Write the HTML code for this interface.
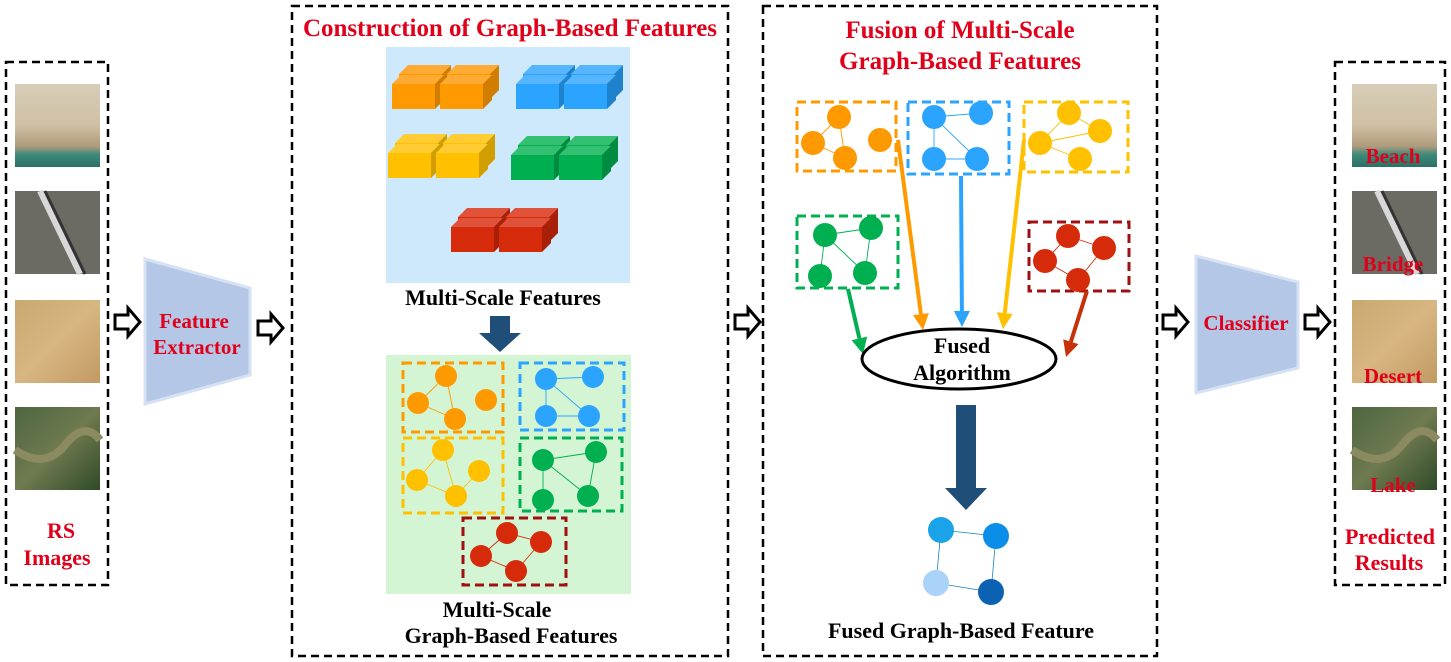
<!DOCTYPE html>
<html><head><meta charset="utf-8"><style>
html,body{margin:0;padding:0;background:#fff;}
svg{display:block;}
text{font-family:"Liberation Serif",serif;font-weight:bold;}
</style></head><body>
<svg id="s" width="1451" height="662" viewBox="0 0 1451 662" xmlns="http://www.w3.org/2000/svg">
<defs>
<linearGradient id="beach" x1="0" y1="0" x2="0" y2="1"><stop offset="0" stop-color="#d8cdb8"/><stop offset="0.5" stop-color="#cfc0a4"/><stop offset="0.75" stop-color="#b09a7c"/><stop offset="0.85" stop-color="#3d8a7a"/><stop offset="1" stop-color="#2c7066"/></linearGradient>
<linearGradient id="desert" x1="0" y1="0" x2="1" y2="1"><stop offset="0" stop-color="#c9a870"/><stop offset="0.5" stop-color="#d8b682"/><stop offset="1" stop-color="#c29a62"/></linearGradient>
<linearGradient id="lake" x1="0" y1="0" x2="1" y2="1"><stop offset="0" stop-color="#4d6640"/><stop offset="0.5" stop-color="#6f7a50"/><stop offset="1" stop-color="#2f4a28"/></linearGradient>
</defs>
<g fill="none" stroke="#000" stroke-width="2.5" stroke-dasharray="8,5">
<rect x="6" y="62" width="102" height="523"/>
<rect x="292" y="6" width="436" height="650"/>
<rect x="763" y="6" width="394" height="650"/>
<rect x="1335" y="62" width="110" height="523"/>
</g>
<g id="imgs"></g>
<text x="61" y="538" font-size="22" fill="#e0001a" text-anchor="middle">RS</text>
<text x="57" y="565" font-size="22" fill="#e0001a" text-anchor="middle">Images</text>
<polygon points="145,259 250,288 250,375 145,404" fill="#b4c7e7" stroke="#d6e2f3" stroke-width="3"/>
<text x="194" y="328" font-size="21" fill="#e0001a" text-anchor="middle">Feature</text>
<text x="197" y="354" font-size="21" fill="#e0001a" text-anchor="middle">Extractor</text>
<polygon points="1196,256 1298,282 1298,368 1196,393" fill="#b4c7e7" stroke="#d6e2f3" stroke-width="3"/>
<text x="1246" y="330" font-size="21" fill="#e0001a" text-anchor="middle">Classifier</text>
<g id="harrows" fill="#fff" stroke="#000" stroke-width="3"></g>
<text x="510" y="36" font-size="25" fill="#e0001a" text-anchor="middle" textLength="414">Construction of Graph-Based Features</text>
<rect x="386" y="47" width="244" height="236" fill="#cde9fb"/>
<g id="cubes"></g>
<text x="503" y="305" font-size="22" fill="#000" text-anchor="middle">Multi-Scale Features</text>
<polygon points="490,316 510,316 510,333 521,333 500,352 479,333 490,333" fill="#1f4e79"/>
<rect x="386" y="355" width="245" height="239" fill="#d4f5d4"/>
<g id="graphs"></g>
<text x="497" y="617" font-size="22" fill="#000" text-anchor="middle">Multi-Scale</text>
<text x="511" y="643" font-size="22" fill="#000" text-anchor="middle">Graph-Based Features</text>
<text x="960" y="38" font-size="25" fill="#e0001a" text-anchor="middle">Fusion of Multi-Scale</text>
<text x="960" y="69" font-size="25" fill="#e0001a" text-anchor="middle">Graph-Based Features</text>
<g id="farrows"></g>
<ellipse cx="959" cy="359" rx="97" ry="30" fill="#fff" stroke="#000" stroke-width="3"/>
<text x="962" y="353" font-size="22" fill="#000" text-anchor="middle">Fused</text>
<text x="962" y="380" font-size="22" fill="#000" text-anchor="middle">Algorithm</text>
<polygon points="956,405 976,405 976,488 987,488 966,510 945,488 956,488" fill="#1f4e79"/>
<g stroke="#1f7fc0" stroke-width="0.8">
<line x1="941" y1="530" x2="996" y2="536"/><line x1="941" y1="530" x2="936" y2="583"/><line x1="996" y1="536" x2="991" y2="592"/><line x1="936" y1="583" x2="991" y2="592"/>
</g>
<circle cx="941" cy="530" r="13" fill="#1aa3e8"/><circle cx="996" cy="536" r="13" fill="#0a8ee8"/>
<circle cx="936" cy="583" r="13" fill="#a9d3f8"/><circle cx="991" cy="592" r="13" fill="#0b62b3"/>
<text x="961" y="638" font-size="22" fill="#000" text-anchor="middle">Fused Graph-Based Feature</text>
<text x="1390" y="544" font-size="22" fill="#e0001a" text-anchor="middle">Predicted</text>
<text x="1389" y="570" font-size="22" fill="#e0001a" text-anchor="middle">Results</text>
</svg>
<script>
var NS="http://www.w3.org/2000/svg";
function el(parent,tag,attrs){var e=document.createElementNS(NS,tag);for(var k in attrs)e.setAttribute(k,attrs[k]);document.getElementById(parent).appendChild(e);return e;}
var ys=[84,191,300,407];var fills=["url(#beach)","#6b6a63","url(#desert)","url(#lake)"];
[15,1352].forEach(function(x){ys.forEach(function(y,i){el("imgs","rect",{x:x,y:y,width:85,height:83,fill:fills[i]});});});
[15,1352].forEach(function(x){el("imgs","line",{x1:x+25,y1:191,x2:x+65,y2:274,stroke:"#d8d8d8","stroke-width":6});el("imgs","line",{x1:x+30,y1:191,x2:x+70,y2:274,stroke:"#333","stroke-width":3});});
[15,1352].forEach(function(x){el("imgs","path",{d:"M"+x+" 450 Q"+(x+30)+" 470 "+(x+50)+" 445 T"+(x+85)+" 440",stroke:"#8c8a60","stroke-width":8,fill:"none"});});
var labs=[["Beach",163],["Bridge",271],["Desert",383],["Lake",492]];
labs.forEach(function(l){var t=el("imgs","text",{x:1393,y:l[1],"font-size":21,fill:"#e0001a","text-anchor":"middle"});t.textContent=l[0];});
[[115,322],[258,328],[735,322],[1163,322],[1305,322]].forEach(function(a){var x=a[0],y=a[1];
el("harrows","polygon",{points:(x)+","+(y-7)+" "+(x+13)+","+(y-7)+" "+(x+13)+","+(y-14)+" "+(x+25)+","+y+" "+(x+13)+","+(y+14)+" "+(x+13)+","+(y+7)+" "+x+","+(y+7)});});
function brick(x,y,c){var w=43,h=25,dx=9,dy=-9;
el("cubes","polygon",{points:x+","+y+" "+(x+dx)+","+(y+dy)+" "+(x+w+dx)+","+(y+dy)+" "+(x+w)+","+y,fill:c[1]});
el("cubes","polygon",{points:(x+w)+","+y+" "+(x+w+dx)+","+(y+dy)+" "+(x+w+dx)+","+(y+h+dy)+" "+(x+w)+","+(y+h),fill:c[2]});
el("cubes","rect",{x:x,y:y,width:w,height:h,fill:c[0]});}
function group(x,y,c){brick(x+7,y-10,c);brick(x+55,y-10,c);brick(x,y,c);brick(x+48,y,c);}
group(392,84,["#ff9900","#ffab33","#d07d00"]);
group(516,84,["#2ba4ff","#55b6ff","#1e82cc"]);
group(388,153,["#ffc000","#ffcc33","#d19e00"]);
group(511,155,["#00b050","#33c070","#008c40"]);
group(451,227,["#d62b0a","#e0533a","#a82008"]);
function graph(p,box,col,bcol,nodes,edges,r){
el(p,"rect",{x:box[0],y:box[1],width:box[2]-box[0],height:box[3]-box[1],fill:"none",stroke:bcol,"stroke-width":3,"stroke-dasharray":"9,5"});
edges.forEach(function(e){var a=nodes[e[0]],b=nodes[e[1]];el(p,"line",{x1:a[0],y1:a[1],x2:b[0],y2:b[1],stroke:col,"stroke-width":0.9});});
nodes.forEach(function(n){el(p,"circle",{cx:n[0],cy:n[1],r:r,fill:col});});}
var O="#ff9900",B="#2ba4ff",Y="#ffc000",G="#00b050",R="#d62b0a";
var eo=[[0,1],[0,2],[1,2]],eb=[[0,1],[0,2],[0,3],[2,3]],ey=[[0,1],[1,2],[2,3],[0,2]],eg=[[0,1],[0,2],[0,3],[1,3]],er=[[0,1],[0,2],[2,3],[1,3]];
graph("graphs",[403,363,503,432],O,O,[[446,376],[418,403],[455,419],[486,400]],eo,11);
graph("graphs",[520,363,624,430],B,B,[[546,379],[593,377],[546,416],[589,416]],eb,11);
graph("graphs",[403,438,503,513],Y,Y,[[443,450],[417,480],[456,496],[479,471]],ey,11);
graph("graphs",[520,438,622,511],G,G,[[543,460],[596,452],[543,500],[588,496]],eg,11);
graph("graphs",[463,518,566,585],R,"#a01010",[[507,533],[541,542],[481,556],[516,571]],er,11);
graph("farrows",[797,102,896,171],O,O,[[839,117],[813,143],[845,158],[880,140]],eo,12);
graph("farrows",[908,102,1009,174],B,B,[[934,117],[981,113],[934,159],[977,159]],eb,12);
graph("farrows",[1024,102,1128,172],Y,Y,[[1069,113],[1100,131],[1040,143],[1080,159]],ey,12);
graph("farrows",[797,216,898,288],G,G,[[825,235],[871,228],[820,276],[865,273]],eg,12);
graph("farrows",[1029,222,1129,291],R,"#a01010",[[1068,236],[1104,248],[1045,261],[1078,280]],er,12);
function arr(x1,y1,x2,y2,c){var dx=x2-x1,dy=y2-y1,L=Math.sqrt(dx*dx+dy*dy),ux=dx/L,uy=dy/L,hl=16,hw=8;
var bx=x2-ux*hl,by=y2-uy*hl;
el("farrows","line",{x1:x1,y1:y1,x2:bx,y2:by,stroke:c,"stroke-width":4});
el("farrows","polygon",{points:x2+","+y2+" "+(bx-uy*hw)+","+(by+ux*hw)+" "+(bx+uy*hw)+","+(by-ux*hw),fill:c});}
arr(898,140,923,330,O);arr(961,176,962,327,B);arr(1024,140,1003,329,Y);arr(848,289,863,354,G);arr(1087,291,1066,357,"#c8300a");
</script>
</body></html>
